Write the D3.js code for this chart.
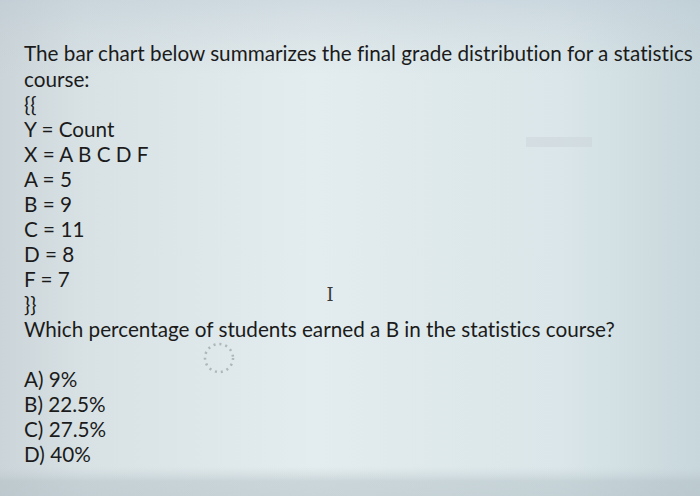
<!DOCTYPE html>
<html>
<head>
<meta charset="utf-8">
<script src="https://cdn.jsdelivr.net/npm/d3@7"></script>
<style>
  html, body { margin: 0; padding: 0; background: #dde7ea; }
  #stage { width: 700px; height: 496px; }
  text { font-variant-ligatures: none; font-feature-settings: "liga" 0; }
</style>
</head>
<body>
<div id="stage"></div>
<script>
// values from the question text
const introLines = ["The bar chart below summarizes the final grade distribution for a statistics", "course:"];
const yLabel = "Count";
const categories = ["A", "B", "C", "D", "F"];
const counts = [5, 9, 11, 8, 7];
const question = "Which percentage of students earned a B in the statistics course?";
const optionKeys = ["A", "B", "C", "D"];
const optionValues = ["9%", "22.5%", "27.5%", "40%"];

const stage = d3.select("#stage");
const width = 700;
const height = 496;

const svg = stage
  .append("svg")
  .attr("width", width)
  .attr("height", height)
  .attr("viewBox", `0 0 ${width} ${height}`);

const defs = svg.append("defs");

const bgH = defs.append("linearGradient").attr("id", "bgH");
bgH.append("stop").attr("offset", "0%").attr("stop-color", "#cbd4d8");
bgH.append("stop").attr("offset", "12%").attr("stop-color", "#d8e2e5");
bgH.append("stop").attr("offset", "45%").attr("stop-color", "#e3ecee");
bgH.append("stop").attr("offset", "80%").attr("stop-color", "#dae6e9");
bgH.append("stop").attr("offset", "100%").attr("stop-color", "#c8d7dc");

const bgV = defs.append("linearGradient").attr("id", "bgV")
  .attr("x1", 0).attr("y1", 0).attr("x2", 0).attr("y2", 1);
bgV.append("stop").attr("offset", "0%").attr("stop-color", "#b9c6d2").attr("stop-opacity", 0.45);
bgV.append("stop").attr("offset", "15%").attr("stop-color", "#c4d0d6").attr("stop-opacity", 0.0);
bgV.append("stop").attr("offset", "94%").attr("stop-color", "#c4d0d6").attr("stop-opacity", 0.0);
bgV.append("stop").attr("offset", "97%").attr("stop-color", "#aebcc2").attr("stop-opacity", 0.45);
bgV.append("stop").attr("offset", "100%").attr("stop-color", "#aebcc2").attr("stop-opacity", 0.5);

svg.append("rect").attr("width", width).attr("height", height).attr("fill", "url(#bgH)");
svg.append("rect").attr("width", width).attr("height", height).attr("fill", "url(#bgV)");

// faint smudge top right
svg.append("rect")
  .attr("x", 526).attr("y", 137).attr("width", 66).attr("height", 10)
  .attr("fill", "#c3cbcf").attr("opacity", 0.3);

// build the text lines from the data
const lines = [
  ...introLines,
  "{{",
  `Y = ${yLabel}`,
  `X = ${categories.join(" ")}`,
  ...categories.map((c, i) => `${c} = ${counts[i]}`),
  "}}",
  question,
  "",
  ...optionKeys.map((k, i) => `${k}) ${optionValues[i]}`)
];

const y = d3.scaleLinear().domain([0, lines.length - 1]).range([61.5, 462]);

const textGroup = svg.append("g");

const texts = textGroup
  .selectAll("text")
  .data(lines)
  .join("text")
  .attr("x", 0)
  .attr("y", (d, i) => y(i))
  .attr("font-family", "Lato, 'Open Sans', sans-serif")
  .attr("font-size", "21px")
  .attr("fill", "#1b1b1b")
  .text(d => d);

// fit the long first line to the photo's width
const firstWidth = texts.node().getComputedTextLength();
const k = 669 / firstWidth;
textGroup.attr("transform", `translate(24,0) scale(${k},1)`);

// text cursor
svg.append("text")
  .attr("x", 330)
  .attr("y", 301)
  .attr("text-anchor", "middle")
  .attr("font-family", "'DejaVu Serif', serif")
  .attr("font-size", "18px")
  .attr("fill", "#3a3a3a")
  .text("I");

// loading spinner
svg.append("circle")
  .attr("cx", 219)
  .attr("cy", 358)
  .attr("r", 14)
  .attr("fill", "none")
  .attr("stroke", "#8d9598")
  .attr("stroke-width", 2.5)
  .attr("stroke-dasharray", "2 4")
  .attr("opacity", 0.6);
</script>
</body>
</html>
